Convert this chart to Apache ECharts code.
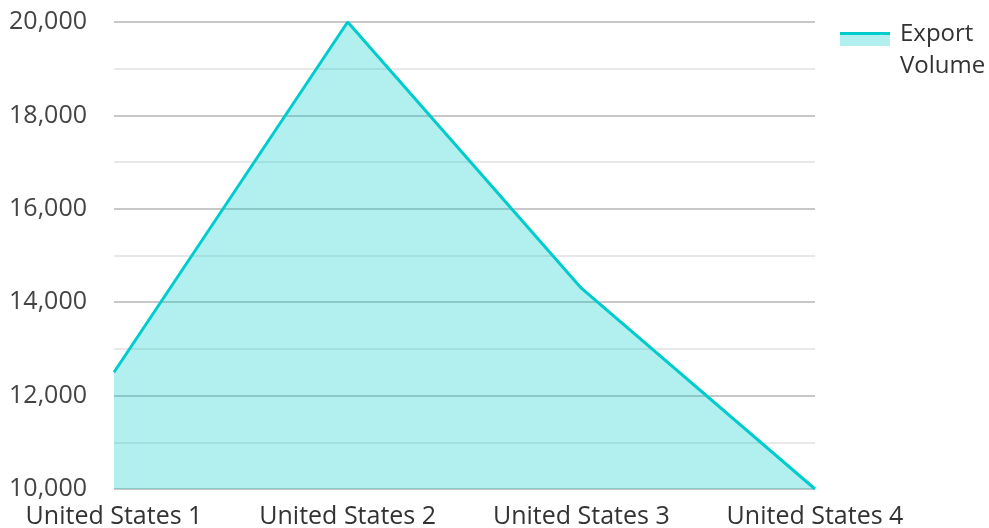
<!DOCTYPE html>
<html>
<head>
<meta charset="utf-8">
<script src="https://cdn.jsdelivr.net/npm/echarts@6/dist/echarts.min.js"></script>
<style>
html,body{margin:0;padding:0;background:#fff;}
#chart{width:989px;height:528px;}
</style>
</head>
<body>
<div id="chart"></div>
<script>
const categories = ["United States 1", "United States 2", "United States 3", "United States 4"];
const exportVolume = [12500, 20000, 14300, 10000];
const seriesName = "Export Volume";
const yTicks = [10000, 12000, 14000, 16000, 18000, 20000];

const iconSvg = '<svg xmlns="http://www.w3.org/2000/svg" width="55" height="64" viewBox="0 0 55 64">' +
  '<rect x="0" y="17" width="50" height="11" fill="#b2efee"/>' +
  '<rect x="0" y="14" width="50" height="3" fill="#00cccc"/></svg>';
const iconUrl = 'image://data:image/svg+xml;charset=utf-8,' + encodeURIComponent(iconSvg);

const chart = echarts.init(document.getElementById('chart'), null, {renderer: 'canvas'});
const font = '"Open Sans", sans-serif';
chart.setOption({
  animation: false,
  textStyle: {fontFamily: font},
  grid: {left: 114, right: 174, top: 22, bottom: 39, containLabel: false, outerBoundsMode: 'none'},
  legend: {
    show: true,
    orient: 'vertical',
    left: 835,
    top: 13,
    itemWidth: 55,
    itemHeight: 64,
    itemGap: 10,
    data: [{name: seriesName, icon: iconUrl}],
    formatter: function () { return 'Export\nVolume'; },
    textStyle: {fontFamily: font, fontSize: 24, color: '#333333', lineHeight: 32, padding: [0, 0, 0, 0]}
  },
  xAxis: {
    type: 'category',
    data: categories,
    boundaryGap: false,
    axisLine: {show: false},
    axisTick: {show: false},
    axisLabel: {fontFamily: font, fontSize: 25, color: '#333333', margin: 15}
  },
  yAxis: {
    type: 'value',
    min: yTicks[0],
    max: yTicks[yTicks.length - 1],
    interval: 2000,
    axisLine: {show: false},
    axisTick: {show: false},
    axisLabel: {
      fontFamily: font, fontSize: 25, color: '#444444', margin: 27,
      formatter: function (v) { return v.toLocaleString('en-US'); }
    },
    splitLine: {show: true, lineStyle: {color: '#c8c8c8', width: 2}},
    minorTick: {show: false, splitNumber: 2},
    minorSplitLine: {show: true, lineStyle: {color: '#e8e8e8', width: 2}}
  },
  series: [{
    name: seriesName,
    type: 'line',
    data: exportVolume,
    symbol: 'none',
    lineStyle: {color: '#00cccc', width: 3},
    itemStyle: {color: '#00cccc'},
    areaStyle: {color: '#00cccc', opacity: 0.3, origin: 'start'},
    z: 3
  }]
});
</script>
</body>
</html>
